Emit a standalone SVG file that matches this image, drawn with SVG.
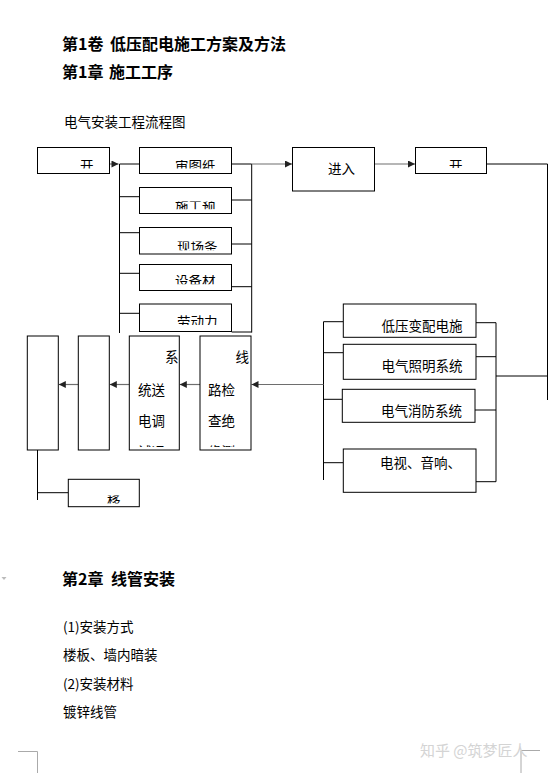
<svg xmlns="http://www.w3.org/2000/svg" width="550" height="773" viewBox="0 0 550 773">
<style>
.bx{fill:#fff;stroke:#000;stroke-width:1}
.ln{fill:none;stroke:#000;stroke-width:1}
.ar{fill:none;stroke:#6e6e6e;stroke-width:1.2}
.t{font-family:"Noto Sans CJK SC","Liberation Sans",sans-serif;font-size:13.5px;fill:#000}
.h{font-family:"Noto Sans CJK SC","Liberation Serif",serif;font-size:16px;font-weight:bold;fill:#000}
.wm{font-family:"Noto Sans CJK SC","Liberation Sans",sans-serif;font-size:15px;fill:#d4d4d4}
.mk{fill:none;stroke:#aaa;stroke-width:1}
</style>
<defs>
<marker id="ah" viewBox="0 0 10 10" refX="10" refY="5" markerWidth="8" markerHeight="7" markerUnits="userSpaceOnUse" orient="auto">
<path d="M0,0 L10,5 L0,10 Z" fill="#222"/>
</marker>
<clipPath id="c1"><rect x="60" y="160" width="60" height="8.5"/></clipPath>
<clipPath id="c2"><rect x="150" y="160" width="80" height="8.5"/></clipPath>
<clipPath id="c3"><rect x="150" y="201.5" width="80" height="7.7"/></clipPath>
<clipPath id="c4"><rect x="150" y="241.5" width="80" height="8.7"/></clipPath>
<clipPath id="c5"><rect x="150" y="275" width="80" height="9.3"/></clipPath>
<clipPath id="c6"><rect x="150" y="315" width="80" height="10"/></clipPath>
<clipPath id="c7"><rect x="430" y="159" width="50" height="9"/></clipPath>
<clipPath id="c8"><rect x="90" y="495.5" width="45" height="8"/></clipPath>
<clipPath id="c9"><rect x="130" y="440" width="49" height="7"/></clipPath>
<clipPath id="c10"><rect x="201" y="440" width="49" height="7"/></clipPath>
</defs>

<g id="headings">
<text class="h" x="62" y="50">第1卷<tspan x="110">低压配电施工方案及方法</tspan></text>
<text class="h" x="62" y="78">第1章<tspan x="109">施工工序</tspan></text>
<text class="t" x="64" y="127">电气安装工程流程图</text>
</g>

<g id="connectors">
<line class="ar" x1="110" y1="164" x2="118.5" y2="164" marker-end="url(#ah)"/>
<path class="ln" d="M119.5,164 V333 M119.5,164 H139.5 M119.5,196.7 H139.5 M119.5,232.7 H139.5 M119.5,273.3 H139.5 M119.5,313.3 H139.5"/>
<path class="ln" d="M231.7,164 H251.7 M231.7,200 H251.7 M231.7,244 H251.7 M231.7,286.7 H251.7 M231.7,332 H251.7 M251.7,164 V332.5"/>
<line class="ar" x1="251.7" y1="164" x2="292" y2="164" marker-end="url(#ah)"/>
<line class="ar" x1="374.3" y1="164" x2="415" y2="164" marker-end="url(#ah)"/>
<path class="ln" d="M486.7,164 H547.5 V400"/>
<path class="ln" d="M323.5,321.7 V480 M323.5,321.7 H343.3 M323.5,352.7 H343.3 M323.5,399.3 H342.3 M323.5,462.7 H343.3"/>
<path class="ln" d="M476,322.7 H496 M476,356.7 H496 M475,410 H496 M476,481.7 H496 M496,322.7 V481.7 M496,376 H547.5"/>
<line class="ar" x1="323.5" y1="384.5" x2="251.5" y2="384.5" marker-end="url(#ah)"/>
<line class="ar" x1="200" y1="384.5" x2="179.8" y2="384.5" marker-end="url(#ah)"/>
<line class="ar" x1="129.3" y1="384.5" x2="109.8" y2="384.5" marker-end="url(#ah)"/>
<line class="ar" x1="78.3" y1="384.5" x2="58.8" y2="384.5" marker-end="url(#ah)"/>
<path class="ln" d="M37.5,450 V500 M37.5,492.7 H68.3"/>
</g>

<g id="n-kai1">
<rect class="bx" x="37.5" y="147.5" width="72" height="26"/>
<text class="t" x="80" y="170.5" clip-path="url(#c1)">开</text>
</g>
<g id="n-shentu">
<rect class="bx" x="139.5" y="147.5" width="92" height="26"/>
<text class="t" x="175" y="170.5" clip-path="url(#c2)">审图纸</text>
</g>
<g id="n-shigong">
<rect class="bx" x="139.5" y="187.5" width="92" height="26"/>
<text class="t" x="175" y="211" clip-path="url(#c3)">施工预</text>
</g>
<g id="n-xianchang">
<rect class="bx" x="139.5" y="227.5" width="92" height="26.5"/>
<text class="t" x="177" y="252" clip-path="url(#c4)">现场条</text>
</g>
<g id="n-shebei">
<rect class="bx" x="139.5" y="264.5" width="92" height="26"/>
<text class="t" x="175" y="286" clip-path="url(#c5)">设备材</text>
</g>
<g id="n-laodong">
<rect class="bx" x="139.5" y="304" width="92" height="27.5"/>
<text class="t" x="177" y="327" clip-path="url(#c6)">劳动力</text>
</g>
<g id="n-jinru">
<rect class="bx" x="292.5" y="147.5" width="82" height="43.5"/>
<text class="t" x="328" y="173.5">进入</text>
</g>
<g id="n-kai2">
<rect class="bx" x="415.5" y="147.5" width="71" height="26"/>
<text class="t" x="449" y="170.5" clip-path="url(#c7)">开</text>
</g>
<g id="n-diya">
<rect class="bx" x="343.3" y="304" width="132.7" height="33.3"/>
<text class="t" x="381.5" y="331">低压变配电施</text>
</g>
<g id="n-zhaoming">
<rect class="bx" x="343.3" y="344.3" width="132.7" height="35"/>
<text class="t" x="381.5" y="371">电气照明系统</text>
</g>
<g id="n-xiaofang">
<rect class="bx" x="342.3" y="389.3" width="132.7" height="33"/>
<text class="t" x="381" y="416">电气消防系统</text>
</g>
<g id="n-dianshi">
<rect class="bx" x="343.3" y="449" width="132.7" height="43.3"/>
<text class="t" x="380" y="467.5">电视、音响、</text>
</g>
<g id="n-xianlu">
<rect class="bx" x="200" y="336" width="51" height="114"/>
<text class="t" x="235.5" y="361.5">线</text>
<text class="t" x="208" y="394.5">路检</text>
<text class="t" x="208" y="426">查绝</text>
<text class="t" x="208" y="457" clip-path="url(#c10)">缘测</text>
</g>
<g id="n-xitong">
<rect class="bx" x="129.3" y="336" width="50" height="114"/>
<text class="t" x="165" y="361.5">系</text>
<text class="t" x="138" y="394.5">统送</text>
<text class="t" x="138" y="426">电调</text>
<text class="t" x="138" y="457" clip-path="url(#c9)">试运</text>
</g>
<g id="n-box-b">
<rect class="bx" x="78.3" y="336" width="31" height="114"/>
</g>
<g id="n-box-a">
<rect class="bx" x="27.3" y="336" width="31" height="114"/>
</g>
<g id="n-yi">
<rect class="bx" x="68.3" y="479.3" width="71" height="27.4"/>
<text class="t" x="107" y="505" clip-path="url(#c8)">移</text>
</g>

<g id="chapter2">
<text class="h" x="62" y="585">第2章<tspan x="111">线管安装</tspan></text>
<text class="t" x="63" y="632">(1)安装方式</text>
<text class="t" x="63" y="660">楼板、墙内暗装</text>
<text class="t" x="63" y="688.5">(2)安装材料</text>
<text class="t" x="63" y="717">镀锌线管</text>
</g>

<g id="page-marks">
<path d="M1.5,577 L6.5,577 L4,580 Z" fill="#bbb"/>
<path class="mk" d="M18,751.5 H37.5 V773"/>
<path class="mk" d="M521,773 V750.5 H540"/>
<text class="wm" x="420" y="756">知乎 @筑梦匠人</text>
</g>
</svg>
